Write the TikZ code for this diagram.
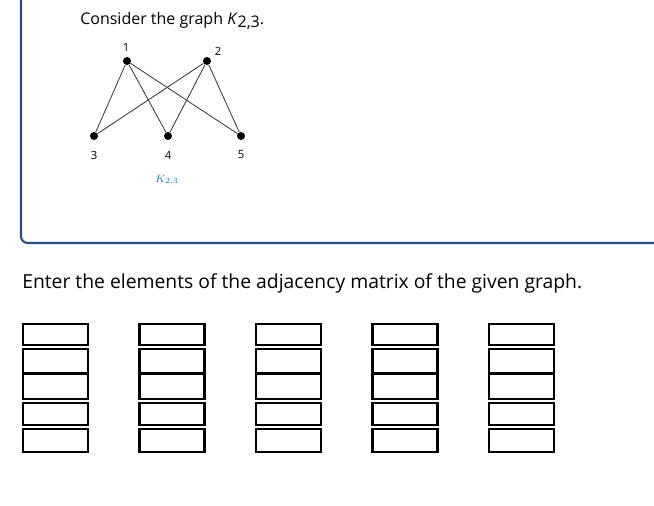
\documentclass[tikz,border=0pt]{standalone}
\usepackage{fontspec}
\setsansfont{Open Sans}
\begin{document}
\begin{tikzpicture}[x=0.75pt,y=-0.75pt,
  dot/.style={circle,fill=black,inner sep=0pt,minimum size=6pt},
  lbl/.style={font=\sffamily\fontsize{8.5}{9}\selectfont,inner sep=0pt},
  edge/.style={draw=black!80,line width=0.6pt}]
\useasboundingbox (0,0) rectangle (654,506);
\definecolor{frame}{HTML}{2D4C7E}
\draw[frame,line width=1.6pt,rounded corners=5pt] (21,-5) -- (21,243) -- (660,243);
\node[anchor=base west,font=\sffamily\fontsize{12}{14}\selectfont,inner sep=0pt] (t1) at (80,25) {Consider the graph \textit{K}\raisebox{-0.35ex}{2,3}.};
\node[dot] (n1) at (127,61) {};
\node[dot] (n2) at (207,61) {};
\node[dot] (n3) at (94,136) {};
\node[dot] (n4) at (168,136) {};
\node[dot] (n5) at (241,136) {};
\foreach \a in {n1,n2}\foreach \b in {n3,n4,n5}\draw[edge] (\a)--(\b);
\node[lbl] (l1) at (126,47) {1};
\node[lbl] (l2) at (218,51) {2};
\node[lbl] (l3) at (94,155) {3};
\node[lbl] (l4) at (168,155) {4};
\node[lbl] (l5) at (241,155) {5};
\node[font=\fontsize{8.5}{9}\selectfont,text=cyan!60!blue] (k) at (167,180) {$K_{2,3}$};
\node[anchor=base west,font=\sffamily\fontsize{14.5}{16}\selectfont,inner sep=0pt] (t2) at (22,289) {Enter the elements of the adjacency matrix of the given graph.};
\foreach \x in {22,138.5,255,371.5,488}{
  \foreach \y/\h in {323/22,348/25,373/26,402/23,428/24}{
    \draw[line width=2pt] (\x+1,\y+1) rectangle (\x+66,\y+\h);
  }}
\end{tikzpicture}
\end{document}
